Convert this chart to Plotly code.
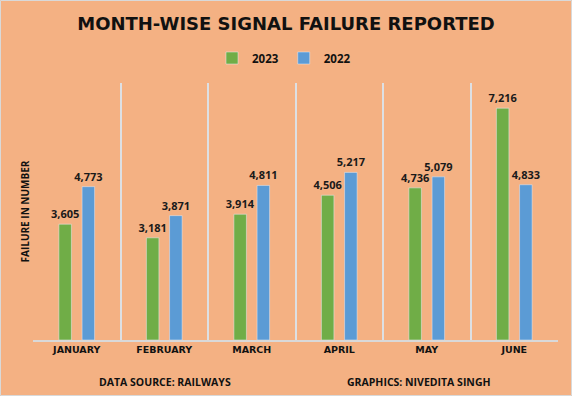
import plotly.graph_objects as go

months = ["JANUARY", "FEBRUARY", "MARCH", "APRIL", "MAY", "JUNE"]
y2023 = [3605, 3181, 3914, 4506, 4736, 7216]
y2022 = [4773, 3871, 4811, 5217, 5079, 4833]

BG = "#F4B183"
GREEN = "#70AD47"
BLUE = "#5B9BD5"
FONT = "Open Sans"
WIDE = "DejaVu Sans"

W, H = 572, 396
L, R, T, B = 33, 14, 83, 56

fig = go.Figure()
for name, vals, col in (("2023", y2023, GREEN), ("2022", y2022, BLUE)):
    fig.add_trace(go.Bar(x=months, y=vals, name=name, marker_color=col,
                         text=[f"{v:,}" for v in vals], textposition="outside",
                         constraintext="none",
                         textfont=dict(family=FONT, size=11, color="#1a1a1a", weight="bold"),
                         cliponaxis=False))

pw = W - L - R
ph = H - T - B

fig.update_layout(
    width=W, height=H,
    margin=dict(l=L, r=R, t=T, b=B, autoexpand=False),
    paper_bgcolor=BG, plot_bgcolor=BG,
    barmode="group", bargap=0.47, bargroupgap=0.46,
    title=dict(text="<b>MONTH-WISE SIGNAL FAILURE REPORTED</b>", x=286 / W, xanchor="center",
               y=1 - 24 / H, yanchor="middle",
               font=dict(family=WIDE, size=18, color="#111111")),
    legend=dict(orientation="h", x=(284 - L) / pw, xanchor="center",
                y=1 + (T - 58) / ph, yanchor="middle",
                font=dict(family=FONT, size=11.5, color="#111111", weight="bold"),
                bgcolor="rgba(0,0,0,0)", itemwidth=30, traceorder="normal"),
    xaxis=dict(type="category", tickson="boundaries", showgrid=True, gridcolor="#DDE0E4",
               gridwidth=1.5, showline=True, linecolor="#D9D9D9", linewidth=1.5, ticks="",
               tickangle=0, automargin=False,
               tickfont=dict(family=WIDE, size=9.5, color="#111111", weight="bold")),
    yaxis=dict(range=[0, 8000], showgrid=False, showticklabels=False, zeroline=False,
               automargin=False,
               title=dict(text="<b>FAILURE IN NUMBER</b>", standoff=0,
                          font=dict(family=FONT, size=10, color="#111111"))),
    showlegend=True,
    annotations=[
        dict(text="<b>DATA SOURCE: RAILWAYS</b>", xref="paper", yref="paper",
             x=(165 - L) / pw, y=-(382 - (T + ph)) / ph, xanchor="center", yanchor="middle",
             showarrow=False, font=dict(family=FONT, size=10.5, color="#111111")),
        dict(text="<b>GRAPHICS: NIVEDITA SINGH</b>", xref="paper", yref="paper",
             x=(419 - L) / pw, y=-(382 - (T + ph)) / ph, xanchor="center", yanchor="middle",
             showarrow=False, font=dict(family=FONT, size=10.5, color="#111111")),
    ],
    shapes=[
        dict(type="rect", xref="paper", yref="paper",
             x0=-(L - 0.5) / pw, x1=1 + (R - 0.5) / pw,
             y0=-(B - 0.5) / ph, y1=1 + (T - 0.5) / ph,
             line=dict(color="#D9D9D9", width=1), layer="below"),
    ],
)

fig.write_html("out.html", config={"displayModeBar": False},
               post_script="document.body.style.margin='0';document.body.style.overflow='hidden';")
